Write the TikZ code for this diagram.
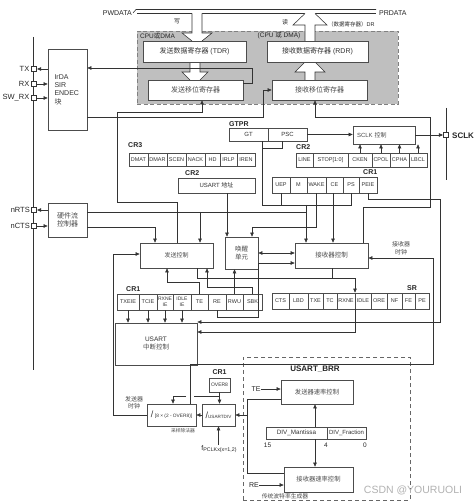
\documentclass[tikz,border=0pt]{standalone}
\usepackage{fontspec}
\setmainfont{Liberation Sans}
\newfontfamily\cjk{Noto Sans CJK SC}
\usetikzlibrary{arrows.meta}
\newcommand\myfs[2]{\fontsize{#1}{#2}\selectfont}
\tikzset{
 ln/.style={draw=black!80, line width=0.55pt},
 arr/.style={ln, -{Triangle[length=4pt,width=3.4pt]}},
 darr/.style={ln, {Triangle[length=4pt,width=3.4pt]}-{Triangle[length=4pt,width=3.4pt]}},
 box/.style={draw=black!70, line width=0.6pt, fill=white, inner sep=0pt, text=black!80, align=center},
 wh/.style 2 args={minimum width=#1pt, minimum height=#2pt},
 cell/.style={box, font=\myfs{5.5}{6}},
 zhbox/.style={box, text=black!70},
 pinbox/.style={draw=black!80, line width=0.6pt, fill=white, minimum size=5.5pt, inner sep=0pt},
 lab/.style={inner sep=0pt, text=black!85},
 reglab/.style={lab, anchor=west, font=\bfseries\myfs{7}{8}},
}
\begin{document}
\begin{tikzpicture}[x=1pt,y=-1pt]
\fill[white] (0,0) rectangle (474,502);
\useasboundingbox (0,0) rectangle (474,502);

% ---------- gray CPU/DMA region ----------
\node[draw=black!50, fill=black!25, dash pattern=on 4pt off 2.5pt, line width=0.8pt, inner sep=0pt, wh={261}{73}] (cpu) at (267.5,67.5) {};

% bus lines
\draw[ln] (133,13) -- (136,9.5) -- (376,9.5);
\draw[ln] (137,13.5) -- (192,13.5) (202,13.5) -- (305,13.5) (315,13.5) -- (376,13.5);

% hollow arrows
\fill[white] (192,13.5) -- (192,33) -- (182,33) -- (192,41) -- (202,41) -- (212,33) -- (202,33) -- (202,13.5) -- cycle;
\draw[ln] (192,13.5) -- (192,33) -- (182,33) -- (192,41) (202,13.5) -- (202,33) -- (212,33) -- (202,41);
\fill[white] (190,62) -- (190,72) -- (182,72) -- (190,80) -- (200,80) -- (208,72) -- (200,72) -- (200,62) -- cycle;
\draw[ln] (190,62) -- (190,72) -- (182,72) -- (190,80) (200,62) -- (200,72) -- (208,72) -- (200,80);
\fill[white] (305,80) -- (305,72) -- (295,72) -- (305,62) -- (315,62) -- (325,72) -- (315,72) -- (315,80) -- cycle;
\draw[ln] (305,80) -- (305,72) -- (295,72) -- (305,62) (315,80) -- (315,72) -- (325,72) -- (315,62);
\fill[white] (305,41) -- (305,25) -- (293,25) -- (305,13.5) -- (315,13.5) -- (327,25) -- (315,25) -- (315,41) -- cycle;
\draw[ln] (305,41) -- (305,25) -- (293,25) -- (305,13.5) (315,41) -- (315,25) -- (327,25) -- (315,13.5);

\node[lab, font=\myfs{7}{8}, anchor=east] (pw) at (132,13) {PWDATA};
\node[lab, font=\myfs{7}{8}, anchor=west] (pr) at (379,13) {PRDATA};
\node[lab, font=\cjk\myfs{6}{7}] (wr) at (177,21) {写};
\node[lab, font=\cjk\myfs{6}{7}] (rd) at (285,22) {读};
\node[lab, font=\myfs{5.5}{6}, anchor=west] (drl) at (328,24) {{\cjk （数据寄存器）}DR};
\node[lab, font=\myfs{6.5}{7}, anchor=west] (cpu1) at (140,36) {CPU{\cjk 或}DMA};
\node[lab, font=\myfs{6.5}{7}] (cpu2) at (279,35) {(CPU {\cjk 或} DMA)};

\node[box, wh={103}{21}, font=\myfs{7}{8}] (tdr) at (194.5,51.5) {{\cjk 发送数据寄存器} (TDR)};
\node[box, wh={101}{21}, font=\myfs{7}{8}] (rdr) at (317.5,51.5) {{\cjk 接收数据寄存器} (RDR)};
\node[zhbox, wh={95}{20}, font=\cjk\myfs{7}{8}] (tsr) at (195.5,90) {发送移位寄存器};
\node[zhbox, wh={95}{20}, font=\cjk\myfs{7}{8}] (rsr) at (319.5,90) {接收移位寄存器};

% ---------- left pins ----------
\draw[ln] (33,37) -- (33,370);
\node[box, wh={39}{81}, font=\myfs{7}{8.4}, align=left, text width=26pt] (irda) at (67.5,89.5) {IrDA\\SIR\\ENDEC\\{\cjk 块}};
\node[zhbox, wh={39}{34}, font=\cjk\myfs{7}{8.6}] (flow) at (67.5,220) {硬件流\\控制器};
\node[pinbox] (ptx) at (34,69) {};
\node[pinbox] (prx) at (34,84) {};
\node[pinbox] (psw) at (34,98) {};
\node[pinbox] (prts) at (34,210) {};
\node[pinbox] (pcts) at (34,226) {};
\node[lab, font=\myfs{7.5}{8}, anchor=east] at (29.5,69) {TX};
\node[lab, font=\myfs{7.5}{8}, anchor=east] at (29.5,84) {RX};
\node[lab, font=\myfs{7.5}{8}, anchor=east] at (29.5,98) {SW\_RX};
\node[lab, font=\myfs{7.5}{8}, anchor=east] at (30,210) {nRTS};
\node[lab, font=\myfs{7.5}{8}, anchor=east] at (30,226) {nCTS};
\draw[arr] (irda.west |- ptx) -- (ptx.east);
\draw[arr] (prx.east) -- (irda.west |- prx);
\draw[arr] (psw.east) -- (irda.west |- psw);
\draw[arr] (flow.west |- prts) -- (prts.east);
\draw[arr] (pcts.east) -- (flow.west |- pcts);

% ---------- GTPR / SCLK ----------
\node[reglab] (gtprl) at (229,124) {GTPR};
\node[cell, wh={39}{13}, font=\myfs{6}{7}] (gt) at (248.5,134.5) {GT};
\node[cell, wh={39}{13}, font=\myfs{6}{7}] (psc) at (287.5,134.5) {PSC};
\node[box, wh={62}{18}, font=\myfs{6}{7}, align=left, text width=54pt, text=black!70] (sclk) at (384,135) {SCLK {\cjk 控制}};
\draw[ln] (446,108) -- (446,180);
\node[pinbox] (psclk) at (446,135) {};
\node[lab, anchor=west, font=\bfseries\myfs{8}{9}] (sclkl) at (452,135.5) {SCLK};
\draw[arr] (psc.east) -- (sclk.west |- psc.east);
\draw[arr] (sclk.east) -- (psclk.west);

% CR2 upper
\node[reglab] (cr2a) at (296,147) {CR2};
\node[cell, wh={17}{14}] (line) at (304.5,160) {LINE};
\node[cell, wh={35}{14}] (stop) at (330.5,160) {STOP[1:0]};
\node[cell, wh={24}{14}] (cken) at (360,160) {CKEN};
\node[cell, wh={18}{14}] (cpol) at (381,160) {CPOL};
\node[cell, wh={19}{14}] (cpha) at (399.5,160) {CPHA};
\node[cell, wh={18}{14}] (lbcl) at (418,160) {LBCL};
\foreach \c in {cken,cpol,cpha,lbcl} \draw[arr] (\c.north) -- (\c.north |- sclk.south);

% CR3
\node[reglab] (cr3l) at (128,145) {CR3};
\node[cell, wh={19}{13}] (dmat) at (138.5,159.5) {DMAT};
\node[cell, wh={19}{13}] (dmar) at (157.5,159.5) {DMAR};
\node[cell, wh={19}{13}] (scen) at (176.5,159.5) {SCEN};
\node[cell, wh={19}{13}] (nack) at (195.5,159.5) {NACK};
\node[cell, wh={15}{13}] (hd) at (212.5,159.5) {HD};
\node[cell, wh={17}{13}] (irlp) at (228.5,159.5) {IRLP};
\node[cell, wh={18}{13}] (iren) at (246,159.5) {IREN};

% CR2 lower
\node[reglab] (cr2b) at (185,173) {CR2};
\node[box, wh={77}{15}, font=\myfs{6}{7}] (addr) at (216.5,185.5) {USART {\cjk 地址}};

% CR1 upper
\node[reglab] (cr1a) at (363,172.5) {CR1};
\node[cell, wh={18}{16}] (uep) at (281,185) {UEP};
\node[cell, wh={17}{16}] (mbit) at (298.5,185) {M};
\node[cell, wh={19}{16}] (wake) at (316.5,185) {WAKE};
\node[cell, wh={17}{16}] (ce) at (334.5,185) {CE};
\node[cell, wh={16}{16}] (ps) at (351,185) {PS};
\node[cell, wh={18}{16}] (peie) at (368,185) {PEIE};

% ---------- control blocks ----------
\node[zhbox, wh={73}{25}, font=\cjk\myfs{6}{7}] (txc) at (176.5,255.5) {发送控制};
\node[zhbox, wh={33}{32}, font=\cjk\myfs{6.5}{8}] (wku) at (241.5,253) {唤醒\\单元};
\node[zhbox, wh={73}{25}, font=\cjk\myfs{6.5}{7}] (rxc) at (331.5,255.5) {接收器控制};

% CR1 lower
\node[reglab] (cr1b) at (126,289) {CR1};
\node[cell, wh={22}{16}] (txeie) at (128,302) {TXEIE};
\node[cell, wh={18}{16}] (tcie) at (148,302) {TCIE};
\node[cell, wh={16}{16}, font=\myfs{5}{5.5}] (rxneie) at (165,302) {RXNE\\IE};
\node[cell, wh={18}{16}, font=\myfs{5}{5.5}] (idleie) at (182,302) {IDLE\\IE};
\node[cell, wh={17}{16}] (te) at (199.5,302) {TE};
\node[cell, wh={18}{16}] (re) at (217,302) {RE};
\node[cell, wh={17}{16}] (rwu) at (234.5,302) {RWU};
\node[cell, wh={19}{16}] (sbk) at (252.5,302) {SBK};

% SR
\node[reglab] (srl) at (407,288) {SR};
\node[cell, wh={17}{16}] (cts) at (280.5,301) {CTS};
\node[cell, wh={19}{16}] (lbd) at (298.5,301) {LBD};
\node[cell, wh={15}{16}] (txe) at (315.5,301) {TXE};
\node[cell, wh={14}{16}] (tc) at (330,301) {TC};
\node[cell, wh={18}{16}] (rxne) at (346,301) {RXNE};
\node[cell, wh={16}{16}] (idle) at (363,301) {IDLE};
\node[cell, wh={16}{16}] (ore) at (379,301) {ORE};
\node[cell, wh={15}{16}] (nf) at (394.5,301) {NF};
\node[cell, wh={13}{16}] (fe) at (408.5,301) {FE};
\node[cell, wh={14}{16}] (pe) at (422,301) {PE};

% interrupt control
\node[box, wh={82}{42}, font=\myfs{6.5}{8}] (intc) at (156,344) {USART\\{\color{black!70}\cjk 中断控制}};

% ---------- data paths ----------
\draw[arr] (tsr.east |- 0,83) -- (252,83) -- (252,68) -- (irda.east |- 0,68);
\draw[arr] (irda.east |- 0,117) -- (263,117) -- (263,90) -- (rsr.west);
\draw[arr] (177,0 |- txc.north) -- (177,202) -- (117,202) -- (117,112) -- (202,112) -- (202,0 |- tsr.south);
\draw[arr] (363,0 |- rxc.north) -- (363,207) -- (430,207) -- (430,117) -- (315,117) -- (315,0 |- rsr.south);

% GTPR / parity lines
\draw[ln] (262,0 |- gt.south) -- (262,205) -- (ps.south |- 0,205) -- (ps.south);
\draw[ln] (282,0 |- psc.south) -- (282,148) -- (262,148);
\draw[ln] (uep.south) -- (uep.south |- 0,205);
\draw[arr] (306,205) -- (306,0 |- rxc.north);
\draw[ln] (flow.east |- 0,212) -- (306,212);
\draw[arr] (200,212) -- (200,0 |- txc.north);
\draw[arr] (flow.east |- 0,227) -- (155,227) -- (155,0 |- txc.north);
\draw[arr] (333,0 |- ce.south) -- (333,0 |- rxc.north);
\draw[arr] (wake.south) -- (wake.south |- 0,227) -- (252,227) -- (252,0 |- wku.north);
\draw[arr] (227,0 |- addr.south) -- (227,0 |- wku.north);
\draw[darr] (wku.east |- 0,253) -- (rxc.west |- 0,253);

% CR1 lower links
\draw[arr] (re.south) -- (re.south |- 0,317) -- (258,317) -- (258,263) -- (rxc.west |- 0,263);
\draw[arr] (te.north) -- (te.north |- 0,282) -- (167,282) -- (167,0 |- txc.south);
\draw[arr] (sbk.north) -- (sbk.north |- 0,287) -- (207,287) -- (207,0 |- txc.south);
\draw[arr] (rwu.north) -- (rwu.north |- wku.south);
\draw[arr] (197,0 |- txc.south) -- (197,278) -- (355,278) -- (355,0 |- rxne.north);
\draw[ln] (332,0 |- rxc.south) -- (332,278);
\foreach \c in {txeie,tcie,rxneie,idleie} \draw[arr] (\c.south) -- (\c.south |- intc.north);
\draw[arr] (peie.south) -- (peie.south |- 0,199) -- (440,199) -- (440,322) -- (intc.east |- 0,322);
\draw[arr] (355,0 |- rxne.south) -- (355,332) -- (intc.east |- 0,332);

% ---------- baud rate ----------
\node[draw=black!60, dash pattern=on 4pt off 3pt, line width=0.7pt, inner sep=0pt, wh={167}{143}] (brr) at (326.5,428.5) {};
\node[lab, font=\bfseries\myfs{8}{9}] (brrl) at (315,369.5) {USART\_BRR};
\node[lab, font=\bfseries\myfs{7}{8}] (cr1c) at (219.5,372.5) {CR1};
\node[cell, wh={21}{14}, font=\myfs{5}{6}] (over8) at (219.5,385) {OVER8};
\node[box, wh={49}{22}] (div8) at (171.5,415) {{\myfs{9}{10}/}\,{\myfs{4.8}{6}[8 × (2 - OVER8)]}};
\node[box, wh={33}{22}] (usdiv) at (218.5,415) {{\myfs{9}{10}/}{\myfs{4.6}{6}USARTDIV}};
\node[lab, font=\cjk\myfs{4.8}{6}, text=black!70] (samp) at (183,431) {采样除法器};
\node[lab, font=\myfs{7}{8}] (fpclk) at (219,449) {f{\myfs{5.3}{6}\raisebox{-1.6pt}{PCLKx(x=1,2)}}};
\node[lab, font=\cjk\myfs{6}{7.5}, align=center, text=black!70] (txclk) at (134,402.5) {发送器\\时钟};
\node[lab, font=\cjk\myfs{6}{7.5}, align=center, text=black!70] (rxclk) at (401,248) {接收器\\时钟};

\node[zhbox, wh={72}{24}, font=\cjk\myfs{6.3}{7}] (txr) at (317,392) {发送器速率控制};
\node[zhbox, wh={69}{25}, font=\cjk\myfs{6.3}{7}] (rxr) at (318.5,479.5) {接收器速率控制};
\node[cell, wh={61}{12}, font=\myfs{6.3}{7}] (mant) at (296.5,433) {DIV\_Mantissa};
\node[cell, wh={39}{12}, font=\myfs{6}{7}] (frac) at (346.5,433) {DIV\_Fraction};
\node[lab, font=\myfs{6.5}{7}] (b15) at (267.5,445) {15};
\node[lab, font=\myfs{6.5}{7}] (b4) at (326,445) {4};
\node[lab, font=\myfs{6.5}{7}] (b0) at (365,445) {0};
\node[lab, font=\myfs{7}{8}] (bte) at (256,389) {TE};
\node[lab, font=\myfs{7}{8}] (bre) at (254,485) {RE};
\node[lab, font=\cjk\myfs{5.8}{7}, text=black!70] (conv) at (285,496) {传统波特率生成器};

\draw[arr] (bte.east) -- (txr.west |- bte.east);
\draw[arr] (bre.east) -- (rxr.west |- bre.east);
\draw[arr] (315,0 |- mant.north) -- (315,0 |- txr.south);
\draw[arr] (315,0 |- mant.south) -- (315,0 |- rxr.north);
\draw[ln] (txr.west |- 0,399) -- (247,399) -- (247,473) -- (rxr.west |- 0,473);
\draw[arr] (247,0 |- usdiv.east) -- (usdiv.east);
\draw[arr] (usdiv.west) -- (div8.east);
\draw[arr] (usdiv.south |- fpclk.north) -- (usdiv.south);
\draw[arr] (over8.south) -- (over8.south |- usdiv.north);
\draw[ln] (over8.south |- 0,396) -- (194,396);
\draw[arr] (186,396) -- (173,396) -- (173,0 |- div8.north);
\draw[arr] (div8.west) -- (113,0 |- div8.west) -- (113,254) -- (txc.west |- 0,254);
\draw[arr] (190,0 |- div8.north) -- (190,364) -- (433,364) -- (433,258) -- (rxc.east |- 0,258);

% watermark
\node[lab, font=\myfs{10.5}{12}, text=black!30] (wm) at (413,490) {CSDN @YOURUOLI};
\end{tikzpicture}
\end{document}
